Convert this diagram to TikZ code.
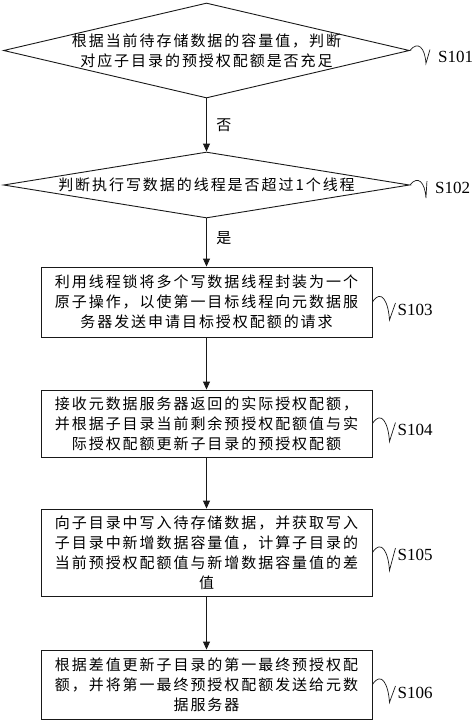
\documentclass[tikz,border=0pt]{standalone}
\usepackage{fontspec}
\usepackage{tikz}
\usetikzlibrary{shapes.geometric, arrows.meta, positioning}
\setmainfont{Liberation Serif}
\newfontfamily\cjkfont[LetterSpace=13]{Noto Sans CJK SC}
\definecolor{linecolor}{RGB}{25,25,25}

\begin{document}
\begin{tikzpicture}[
    x=1pt, y=-1pt,
    decision/.style={diamond, draw=linecolor, line width=0.9pt, inner xsep=-30pt, inner ysep=0pt, align=center, font=\fontsize{15}{20}\selectfont\cjkfont},
    process/.style={draw=linecolor, line width=0.9pt, minimum width=331pt, inner sep=0pt, align=center, font=\fontsize{15}{20}\selectfont\cjkfont},
    flow/.style={-{Triangle[width=7pt,length=8pt]}, line width=0.9pt, draw=linecolor},
    tick/.style={line width=0.7pt, draw=linecolor},
    steplabel/.style={inner ysep=1pt, font=\fontsize{17}{17}\selectfont},
    answer/.style={font=\fontsize{15}{15}\selectfont\cjkfont}
]
    \useasboundingbox (0,0) rectangle (474,721);

    % Decisions
    \node[decision, minimum width=406pt, minimum height=95pt, shape aspect=4.27] (s101) at (206.5,50.5) {根据当前待存储数据的容量值，判断\\对应子目录的预授权配额是否充足};
    \node[decision, minimum width=406pt, minimum height=66pt, shape aspect=6.15, inner xsep=-20pt] (s102) at (206.5,185) {判断执行写数据的线程是否超过1个线程};

    % Steps
    \node[process, minimum height=70pt] (s103) at (206.5,302) {利用线程锁将多个写数据线程封装为一个\\原子操作，以使第一目标线程向元数据服\\务器发送申请目标授权配额的请求};
    \node[process, minimum height=67pt] (s104) at (206.5,423.5) {接收元数据服务器返回的实际授权配额，\\并根据子目录当前剩余预授权配额值与实\\际授权配额更新子目录的预授权配额};
    \node[process, minimum height=87pt] (s105) at (206.5,552.5) {向子目录中写入待存储数据，并获取写入\\子目录中新增数据容量值，计算子目录的\\当前预授权配额值与新增数据容量值的差\\值};
    \node[process, minimum height=69pt] (s106) at (206.5,684.5) {根据差值更新子目录的第一最终预授权配\\额，并将第一最终预授权配额发送给元数\\据服务器};

    % Step numbers
    \node[steplabel, inner xsep=8pt, right=20pt of s101, yshift=-6pt] (l101) {S101};
    \node[steplabel, inner xsep=8pt, right=17pt of s102, yshift=-3pt] (l102) {S102};
    \node[steplabel, inner xsep=2pt, right=23pt of s103, yshift=-8pt] (l103) {S103};
    \node[steplabel, inner xsep=2pt, right=23pt of s104, yshift=-6pt] (l104) {S104};
    \node[steplabel, inner xsep=2pt, right=23pt of s105, yshift=-2.5pt] (l105) {S105};
    \node[steplabel, inner xsep=2pt, right=23pt of s106, yshift=-8.5pt] (l106) {S106};

    % Ticks
    \draw[tick] (s101.east) .. controls +(8,-10) and +(-1,-16) .. ++(16,13) -- (l101.north west);
    \draw[tick] (s102.east) .. controls +(8,-10) and +(-1,-16) .. ++(16,13) -- (l102.north west);
    \draw[tick] (s103.east) .. controls +(9,-14) and +(-1,-18) .. ++(17,18) -- (l103.north west);
    \draw[tick] (s104.east) .. controls +(9,-14) and +(-1,-18) .. ++(17,18) -- (l104.north west);
    \draw[tick] (s105.east) .. controls +(9,-14) and +(-1,-18) .. ++(17,18) -- (l105.north west);
    \draw[tick] (s106.east) .. controls +(9,-14) and +(-1,-18) .. ++(17,18) -- (l106.north west);

    % Flow
    \draw[flow] (s101.south) -- node[answer, right=6pt] (no) {否} (s102.north);
    \draw[flow] (s102.south) -- node[answer, right=6pt, pos=0.4] (yes) {是} (s103.north);
    \draw[flow] (s103.south) -- (s104.north);
    \draw[flow] (s104.south) -- (s105.north);
    \draw[flow] (s105.south) -- (s106.north);
\end{tikzpicture}
\end{document}
